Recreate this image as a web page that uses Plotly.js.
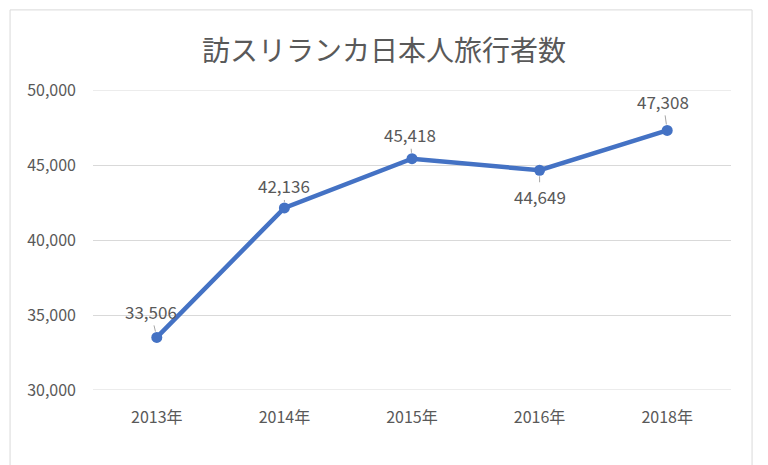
<!DOCTYPE html>
<html>
<head>
<meta charset="utf-8">
<script src="https://cdn.plot.ly/plotly-3.0.1.min.js"></script>
<style>body{margin:0;background:#fff}#chart{width:768px;height:465px}</style>
</head>
<body>
<div id="chart"></div>
<script>
// chart values
var years = ['2013年', '2014年', '2015年', '2016年', '2018年'];
var travellers = [33506, 42136, 45418, 44649, 47308];
var yTicks = [30000, 35000, 40000, 45000, 50000];
var yTickText = ['30,000', '35,000', '40,000', '45,000', '50,000'];

// label offsets (px) from each point, like Excel's moved data labels
var labelDx = [-6, 0, -2, 0, -4];
var labelDy = [-26, -22, -24, 26, -29];

var grey = '#595959';
var gridGrey = '#d9d9d9';
var font = "'Noto Sans CJK JP', 'Noto Sans', sans-serif";

var labels = years.map(function (y, i) {
    return {
        x: y, y: travellers[i], xref: 'x', yref: 'y',
        text: travellers[i].toLocaleString('en-US'),
        showarrow: true, arrowhead: 0, arrowwidth: 1, arrowcolor: '#a6a6a6',
        ax: labelDx[i], ay: labelDy[i], standoff: 6,
        font: {family: font, size: 17, color: grey}
    };
});

// plotly skips gridlines sitting on the plot edge, so draw those two by hand
var edgeLines = [yTicks[0], yTicks[yTicks.length - 1]].map(function (v) {
    return {type: 'line', xref: 'paper', yref: 'y', x0: 0, x1: 1, y0: v, y1: v,
        line: {color: gridGrey, width: 1}, layer: 'below'};
});

var trace = {
    x: years, y: travellers, type: 'scatter', mode: 'lines+markers',
    line: {color: '#4472C4', width: 4.5},
    marker: {color: '#4472C4', size: 11},
    hoverinfo: 'none'
};

var layout = {
    width: 768, height: 465,
    margin: {l: 93, r: 37, t: 90, b: 75},
    paper_bgcolor: '#fff', plot_bgcolor: '#fff',
    showlegend: false,
    title: {text: '訪スリランカ日本人旅行者数', x: 0.5, xanchor: 'center', y: 0.89, yanchor: 'middle',
        font: {family: font, size: 28, color: grey}},
    xaxis: {type: 'category', range: [-0.5, 4.5], showgrid: false, zeroline: false, showline: false,
        ticks: '', ticklabelstandoff: 16, tickfont: {family: font, size: 16, color: grey}},
    yaxis: {range: [yTicks[0], yTicks[yTicks.length - 1]], tickvals: yTicks, ticktext: yTickText,
        showgrid: true, gridcolor: gridGrey, gridwidth: 1, zeroline: false, showline: false,
        ticks: '', ticklabelstandoff: 16, tickfont: {family: font, size: 16, color: grey}},
    annotations: labels,
    shapes: [{type: 'rect', xref: 'paper', yref: 'paper', x0: -0.130, x1: 1.033, y0: -0.27, y1: 1.267,
        line: {color: gridGrey, width: 1}, layer: 'below'}].concat(edgeLines)
};

Plotly.newPlot('chart', [trace], layout, {displayModeBar: false, staticPlot: true});
</script>
</body>
</html>
